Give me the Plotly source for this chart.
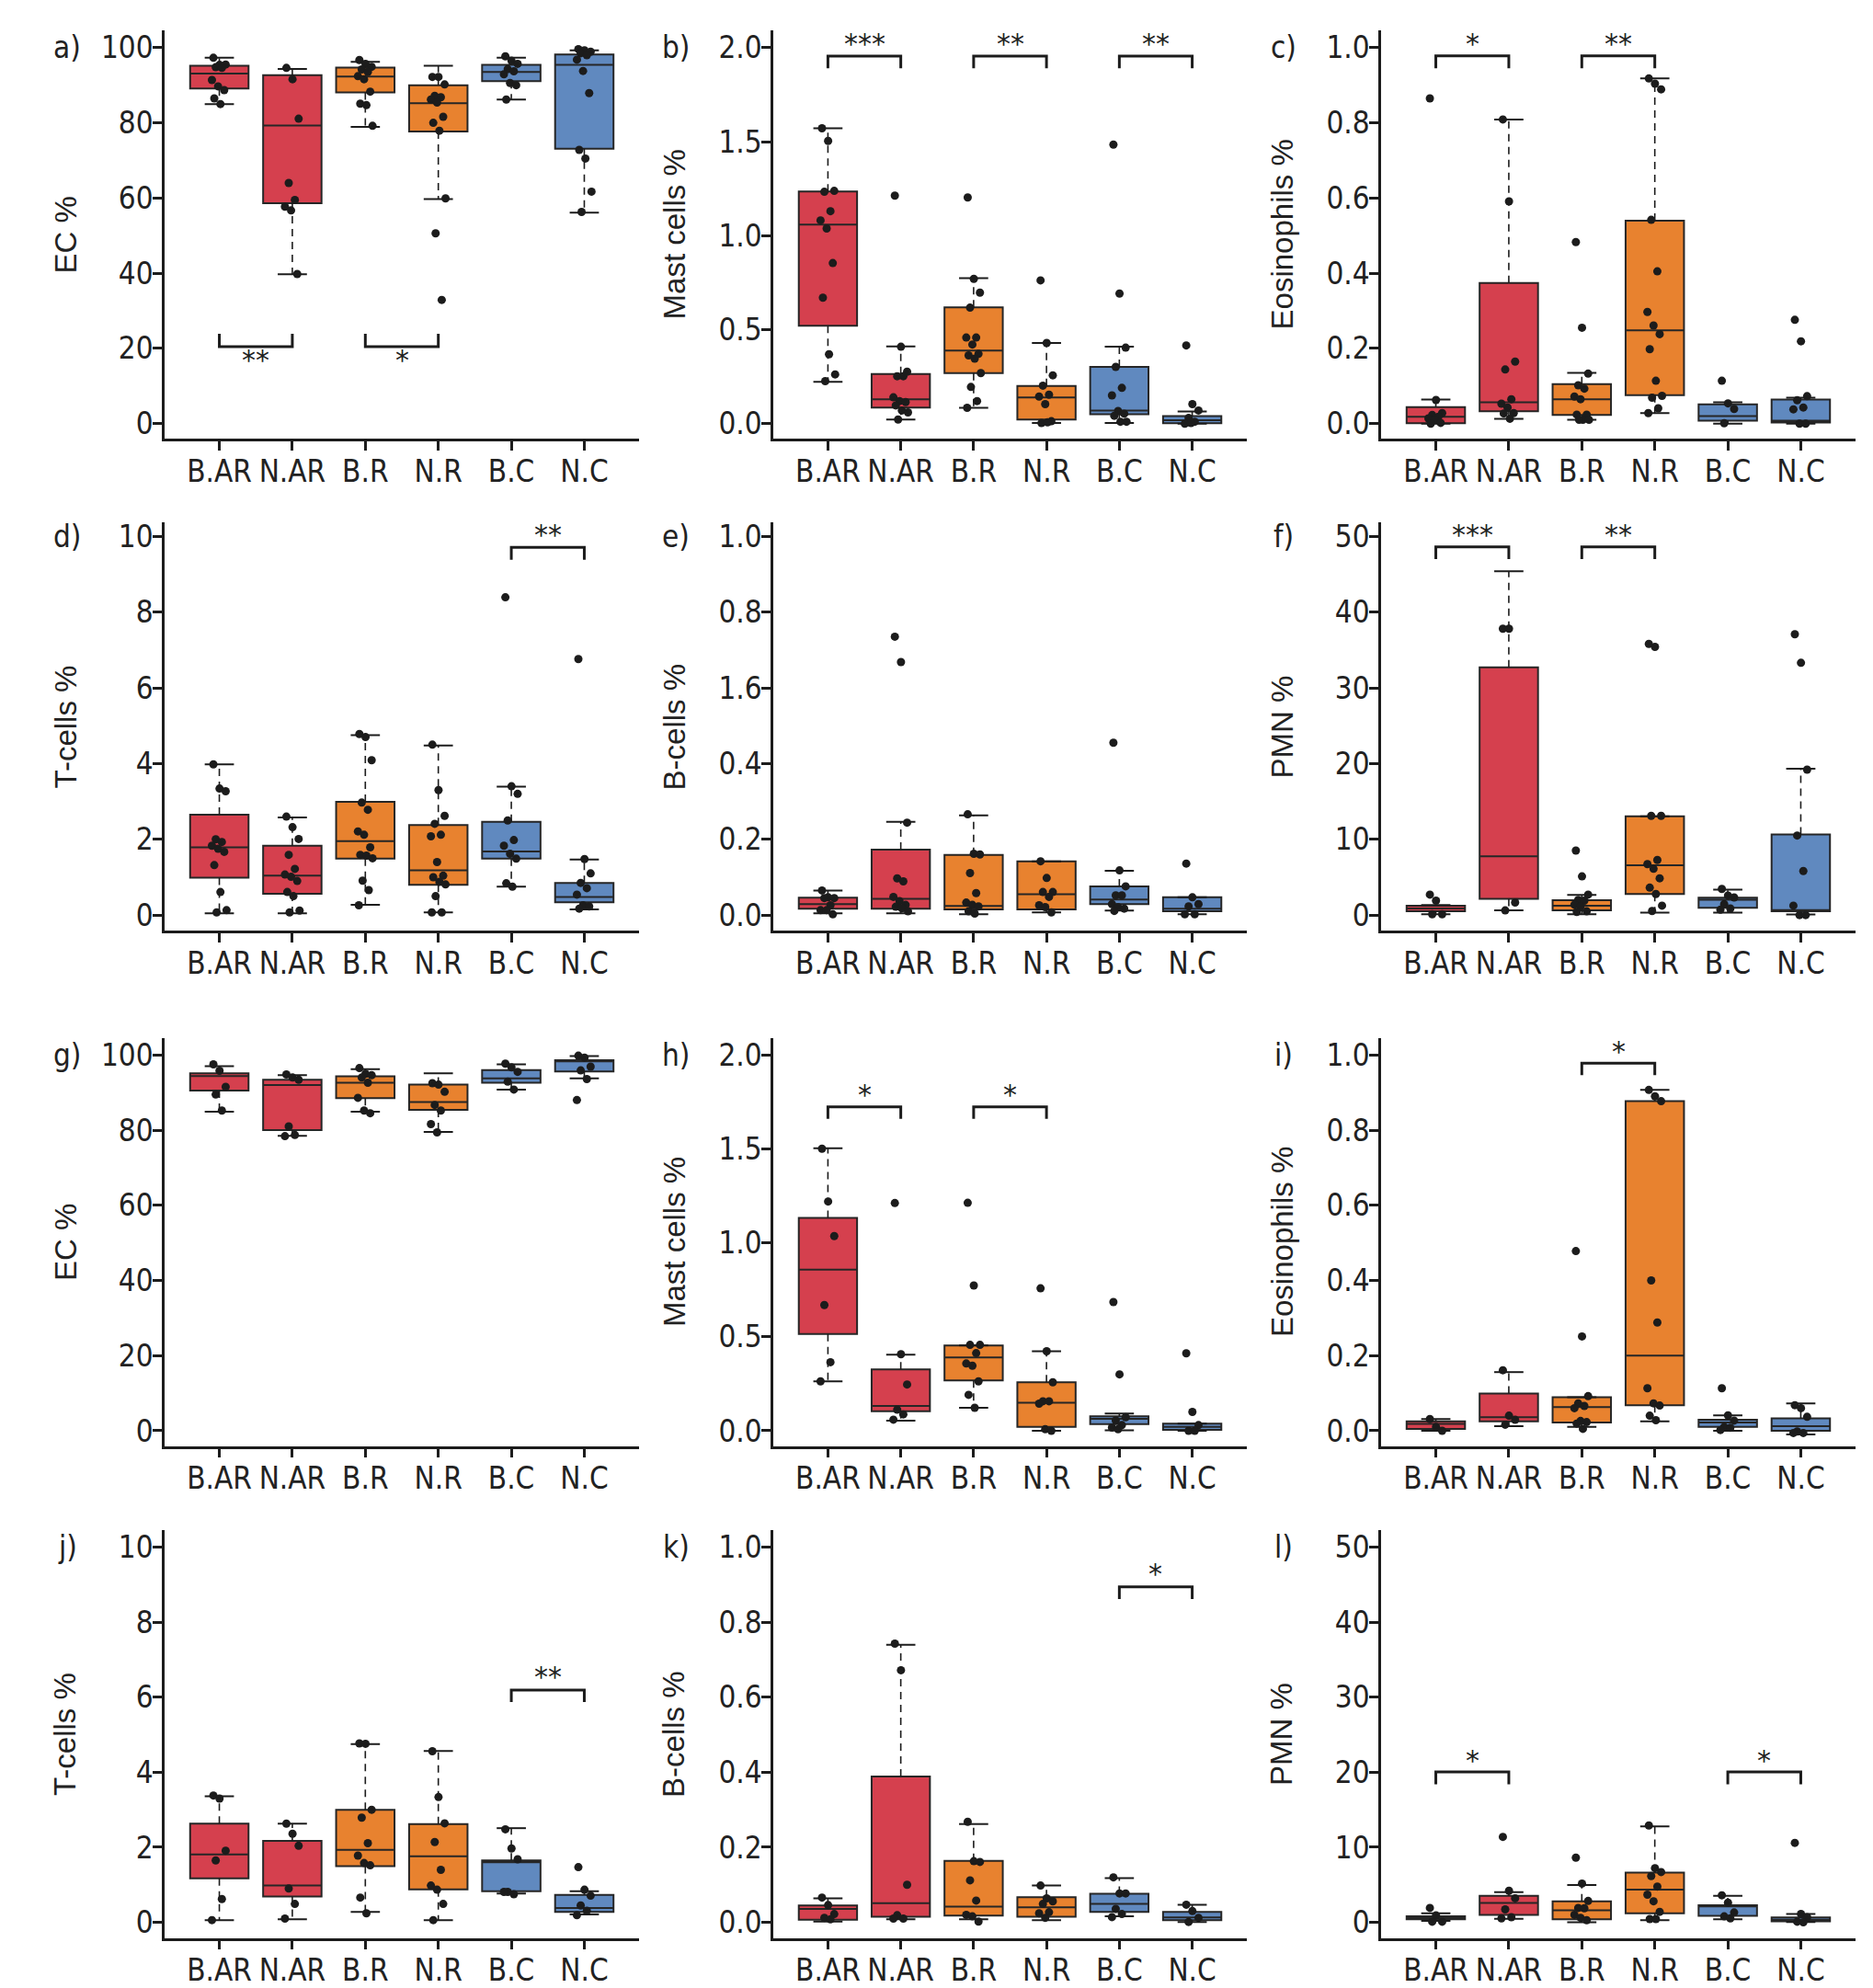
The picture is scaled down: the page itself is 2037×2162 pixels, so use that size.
import plotly.graph_objects as go

CATEGORIES = ["B.AR", "N.AR", "B.R", "N.R", "B.C", "N.C"]

# ---- data: per group [lower whisker, Q1, median, Q3, upper whisker] and raw points ----
A_STATS = [[85.0, 89.1, 93.1, 95.2, 97.3], [39.7, 58.6, 79.3, 92.7, 94.3], [78.9, 88.1, 92.3, 94.7, 96.2],
           [59.7, 77.7, 85.2, 90.0, 95.2], [86.2, 91.1, 93.5, 95.4, 97.3], [56.1, 73.1, 95.4, 98.2, 99.3]]
A_POINTS = [[97.3, 95.4, 95.5, 94.8, 94.6, 91.4, 89.7, 88.7, 86.5, 85.0],
            [94.6, 91.6, 81.1, 64.0, 59.5, 57.7, 56.7, 39.8],
            [96.7, 95.7, 94.9, 94.2, 93.5, 92.4, 91.6, 88.3, 85.1, 84.7, 79.2],
            [92.2, 92.2, 90.2, 87.2, 86.8, 86.2, 85.4, 81.6, 80.0, 77.9, 59.9, 50.6, 32.9],
            [97.7, 96.5, 95.7, 94.3, 93.7, 92.9, 90.6, 90.0, 86.2],
            [99.6, 99.3, 98.9, 98.5, 98.0, 96.8, 93.8, 87.9, 72.8, 70.5, 61.7, 56.3]]

B_STATS = [[0.222, 0.521, 1.059, 1.235, 1.571], [0.022, 0.085, 0.130, 0.264, 0.411], [0.084, 0.269, 0.389, 0.618, 0.774],
           [0.003, 0.022, 0.139, 0.200, 0.429], [0.003, 0.050, 0.070, 0.302, 0.409], [0.0, 0.002, 0.018, 0.040, 0.065]]
B_POINTS = [[1.571, 1.504, 1.238, 1.233, 1.13, 1.081, 1.038, 0.854, 0.67, 0.369, 0.262, 0.226],
            [1.213, 0.409, 0.276, 0.252, 0.252, 0.14, 0.12, 0.115, 0.097, 0.07, 0.06, 0.022],
            [1.203, 0.77, 0.697, 0.617, 0.458, 0.458, 0.421, 0.371, 0.363, 0.346, 0.269, 0.195, 0.12, 0.084],
            [0.762, 0.429, 0.257, 0.202, 0.154, 0.144, 0.104, 0.013, 0.003, 0.007],
            [1.484, 0.692, 0.404, 0.302, 0.19, 0.15, 0.067, 0.053, 0.042, 0.01, 0.01],
            [0.416, 0.104, 0.07, 0.03, 0.01, 0.0, 0.003]]

C_STATS = [[0.0, 0.001, 0.018, 0.044, 0.064], [0.013, 0.033, 0.057, 0.374, 0.809], [0.010, 0.023, 0.065, 0.105, 0.135],
           [0.028, 0.076, 0.248, 0.540, 0.918], [0.0, 0.008, 0.020, 0.051, 0.057], [0.0, 0.003, 0.008, 0.064, 0.069]]
C_POINTS = [[0.865, 0.063, 0.028, 0.023, 0.018, 0.014, 0.010, 0.002, 0.0],
            [0.809, 0.591, 0.165, 0.144, 0.065, 0.053, 0.043, 0.028, 0.027, 0.013],
            [0.483, 0.255, 0.133, 0.102, 0.093, 0.072, 0.065, 0.024, 0.024, 0.010, 0.010, 0.010],
            [0.918, 0.904, 0.889, 0.542, 0.405, 0.297, 0.261, 0.238, 0.198, 0.114, 0.074, 0.069, 0.041, 0.028],
            [0.114, 0.054, 0.039, 0.001],
            [0.276, 0.219, 0.073, 0.062, 0.043, 0.038, 0.0, 0.0]]

D_STATS = [[0.05, 0.99, 1.79, 2.65, 3.98], [0.05, 0.56, 1.04, 1.83, 2.58], [0.27, 1.49, 1.95, 2.99, 4.75],
           [0.07, 0.80, 1.18, 2.38, 4.48], [0.75, 1.49, 1.68, 2.46, 3.39], [0.15, 0.34, 0.48, 0.85, 1.47]]
D_POINTS = [[3.98, 3.34, 3.27, 2.0, 1.93, 1.83, 1.75, 1.67, 1.32, 0.61, 0.13, 0.07],
            [2.6, 2.32, 2.01, 1.59, 1.22, 1.07, 1.01, 0.9, 0.61, 0.5, 0.12, 0.07],
            [4.78, 4.7, 4.09, 2.97, 2.78, 2.21, 2.12, 1.79, 1.59, 1.57, 1.5, 0.91, 0.66, 0.26],
            [4.5, 3.3, 2.62, 2.41, 2.12, 2.08, 1.4, 1.04, 1.0, 0.88, 0.81, 0.5, 0.07, 0.07],
            [8.39, 3.4, 3.2, 2.5, 1.98, 1.83, 1.62, 1.49, 0.84, 0.75],
            [6.76, 1.48, 1.1, 0.85, 0.71, 0.54, 0.26, 0.23, 0.17]]

E_STATS = [[0.005, 0.017, 0.029, 0.046, 0.065], [0.005, 0.017, 0.043, 0.173, 0.246], [0.002, 0.015, 0.024, 0.159, 0.263],
           [0.007, 0.015, 0.055, 0.142, 0.142], [0.012, 0.029, 0.041, 0.076, 0.117], [0.002, 0.010, 0.017, 0.047, 0.047]]
E_POINTS = [[0.065, 0.047, 0.045, 0.045, 0.026, 0.013, 0.013, 0.002],
            [0.735, 0.668, 0.244, 0.097, 0.089, 0.048, 0.037, 0.027, 0.022, 0.018, 0.010],
            [0.266, 0.162, 0.160, 0.111, 0.058, 0.033, 0.027, 0.023, 0.010, 0.004],
            [0.142, 0.098, 0.061, 0.061, 0.048, 0.026, 0.021, 0.007],
            [0.455, 0.118, 0.076, 0.052, 0.052, 0.029, 0.021, 0.017, 0.011],
            [0.136, 0.047, 0.029, 0.023, 0.002, 0.002]]

F_STATS = [[0.12, 0.50, 0.87, 1.25, 1.33], [0.62, 2.16, 7.77, 32.7, 45.4], [0.12, 0.62, 1.25, 1.95, 2.66],
           [0.33, 2.78, 6.57, 13.05, 13.05], [0.33, 0.96, 2.04, 2.29, 3.37], [0.08, 0.50, 0.66, 10.64, 19.33]]
F_POINTS = [[2.7, 1.91, 0.12, 0.12],
            [37.8, 37.8, 1.66, 0.62],
            [8.52, 5.11, 2.7, 2.0, 1.9, 1.37, 1.16, 0.5, 0.42],
            [35.8, 35.4, 13.1, 13.1, 7.27, 6.73, 6.11, 4.86, 3.62, 2.78, 1.25, 0.54],
            [3.45, 2.58, 2.33, 1.45, 0.87, 0.71],
            [37.07, 33.3, 19.2, 10.5, 5.82, 1.25, 0.0, 0.0]]

G_STATS = [[84.9, 90.5, 94.4, 95.1, 97.0], [78.5, 80.0, 92.0, 93.4, 94.6], [84.9, 88.5, 92.6, 94.3, 96.2],
           [79.5, 85.4, 87.5, 92.1, 95.1], [90.8, 92.6, 93.8, 96.0, 97.5], [93.8, 95.6, 98.3, 98.6, 99.7]]
G_POINTS = [[97.5, 95.8, 91.5, 89.5, 85.2],
            [94.8, 94.0, 93.4, 81.0, 78.7, 78.4],
            [96.5, 95.0, 94.6, 94.0, 92.6, 88.6, 85.2, 84.5],
            [92.5, 92.1, 90.2, 86.7, 85.2, 81.6, 79.4],
            [97.7, 96.7, 95.5, 92.9, 90.8],
            [99.8, 99.3, 96.9, 95.9, 93.6, 88.0]]

H_STATS = [[0.263, 0.515, 0.857, 1.133, 1.503], [0.054, 0.104, 0.132, 0.326, 0.405], [0.122, 0.268, 0.390, 0.454, 0.454],
           [0.0, 0.020, 0.149, 0.258, 0.423], [0.002, 0.035, 0.064, 0.077, 0.092], [0.0, 0.005, 0.020, 0.038, 0.038]]
H_POINTS = [[1.501, 1.22, 1.036, 0.669, 0.365, 0.263],
            [1.212, 0.407, 0.246, 0.112, 0.087, 0.059],
            [1.213, 0.773, 0.457, 0.457, 0.413, 0.358, 0.346, 0.263, 0.191, 0.122],
            [0.758, 0.423, 0.258, 0.157, 0.157, 0.144, 0.008, 0.0],
            [0.685, 0.300, 0.072, 0.055, 0.030, 0.017, 0.008],
            [0.412, 0.100, 0.030, 0.0, 0.0]]

I_STATS = [[0.0, 0.005, 0.018, 0.025, 0.031], [0.012, 0.025, 0.036, 0.099, 0.156], [0.010, 0.022, 0.063, 0.089, 0.089],
           [0.025, 0.068, 0.200, 0.877, 0.907], [0.0, 0.010, 0.022, 0.029, 0.041], [-0.01, 0.0, 0.012, 0.033, 0.073]]
I_POINTS = [[0.031, 0.010, 0.0],
            [0.161, 0.040, 0.029, 0.016],
            [0.478, 0.251, 0.092, 0.073, 0.066, 0.060, 0.026, 0.023, 0.019, 0.005],
            [0.907, 0.890, 0.877, 0.400, 0.288, 0.113, 0.073, 0.067, 0.040, 0.028],
            [0.113, 0.041, 0.027, 0.010, 0.008, 0.002],
            [0.068, 0.060, 0.037, -0.002, -0.006, -0.006]]

J_STATS = [[0.06, 1.17, 1.81, 2.63, 3.36], [0.08, 0.69, 0.98, 2.17, 2.63], [0.28, 1.50, 1.93, 3.00, 4.75],
           [0.06, 0.88, 1.76, 2.62, 4.57], [0.77, 0.83, 1.60, 1.65, 2.51], [0.21, 0.28, 0.38, 0.73, 0.83]]
J_POINTS = [[3.38, 3.30, 1.91, 1.65, 0.62, 0.06],
            [2.63, 2.36, 2.04, 0.90, 0.49, 0.10],
            [4.77, 4.76, 3.00, 2.79, 2.11, 1.78, 1.58, 1.52, 0.66, 0.24],
            [4.56, 3.34, 2.64, 2.14, 1.40, 0.98, 0.87, 0.49, 0.06],
            [2.48, 1.97, 1.68, 0.81, 0.75, 0.81],
            [1.47, 0.87, 0.71, 0.45, 0.31, 0.19]]

K_STATS = [[0.002, 0.007, 0.036, 0.045, 0.064], [0.008, 0.015, 0.051, 0.389, 0.740], [0.008, 0.018, 0.042, 0.164, 0.262],
           [0.006, 0.015, 0.040, 0.067, 0.098], [0.016, 0.028, 0.049, 0.076, 0.118], [0.001, 0.006, 0.013, 0.028, 0.047]]
K_POINTS = [[0.066, 0.046, 0.022, 0.012, 0.008],
            [0.743, 0.672, 0.100, 0.019, 0.010, 0.010],
            [0.268, 0.163, 0.161, 0.112, 0.058, 0.020, 0.016, 0.002],
            [0.098, 0.064, 0.056, 0.049, 0.027, 0.024, 0.012],
            [0.120, 0.077, 0.077, 0.036, 0.022, 0.014],
            [0.047, 0.030, 0.012, 0.001]]

L_STATS = [[0.2, 0.4, 0.6, 0.8, 1.2], [0.48, 1.0, 2.57, 3.53, 4.01], [0.0, 0.4, 1.6, 2.81, 4.97],
           [0.28, 1.2, 4.37, 6.62, 12.79], [0.4, 0.88, 2.13, 2.29, 3.53], [0.04, 0.12, 0.36, 0.64, 1.12]]
L_POINTS = [[1.92, 0.92, 0.08, 0.08],
            [11.39, 4.21, 3.21, 1.72, 0.68, 0.52],
            [8.62, 5.17, 2.85, 1.92, 1.88, 1.0, 0.6, 0.28],
            [12.91, 7.22, 6.70, 6.17, 4.77, 3.69, 2.81, 1.40, 0.44, 0.44],
            [3.61, 2.61, 1.32, 0.80, 0.52],
            [10.59, 1.12, 0.68, 0.08, 0.0]]

# tick labels
TICKS_100 = [0, 20, 40, 60, 80, 100]
TICKS_2 = [0.0, 0.5, 1.0, 1.5, 2.0]
LABELS_2 = ["0.0", "0.5", "1.0", "1.5", "2.0"]
TICKS_1 = [0.0, 0.2, 0.4, 0.6, 0.8, 1.0]
LABELS_1 = ["0.0", "0.2", "0.4", "0.6", "0.8", "1.0"]
LABELS_E = ["0.0", "0.2", "0.4", "1.6", "0.8", "1.0"]
TICKS_10 = [0, 2, 4, 6, 8, 10]
TICKS_50 = [0, 10, 20, 30, 40, 50]

# significance brackets: (group i, group j, label, bar y, leg end y, label y)
SIG_A = [(0, 1, "**", 20.5, 23.9, 17.0), (2, 3, "*", 20.5, 23.9, 17.0)]
SIG_B = [(0, 1, "***", 1.955, 1.89, 2.02), (2, 3, "**", 1.955, 1.89, 2.02), (4, 5, "**", 1.955, 1.89, 2.02)]
SIG_C = [(0, 1, "*", 0.978, 0.945, 1.01), (2, 3, "**", 0.978, 0.945, 1.01)]
SIG_D = [(4, 5, "**", 9.71, 9.38, 10.03)]
SIG_F = [(0, 1, "***", 48.6, 47.0, 50.2), (2, 3, "**", 48.6, 47.0, 50.2)]
SIG_H = [(0, 1, "*", 1.724, 1.66, 1.79), (2, 3, "*", 1.724, 1.66, 1.79)]
SIG_I = [(2, 3, "*", 0.978, 0.946, 1.01)]
SIG_J = [(4, 5, "**", 6.19, 5.87, 6.54)]
SIG_K = [(4, 5, "*", 0.894, 0.862, 0.929)]
SIG_L = [(0, 1, "*", 20.05, 18.4, 21.6), (4, 5, "*", 20.05, 18.4, 21.6)]

PANELS = [
    ("a)", "EC %", A_STATS, A_POINTS, TICKS_100, [str(t) for t in TICKS_100], SIG_A),
    ("b)", "Mast cells %", B_STATS, B_POINTS, TICKS_2, LABELS_2, SIG_B),
    ("c)", "Eosinophils %", C_STATS, C_POINTS, TICKS_1, LABELS_1, SIG_C),
    ("d)", "T-cells %", D_STATS, D_POINTS, TICKS_10, [str(t) for t in TICKS_10], SIG_D),
    ("e)", "B-cells %", E_STATS, E_POINTS, TICKS_1, LABELS_E, []),
    ("f)", "PMN %", F_STATS, F_POINTS, TICKS_50, [str(t) for t in TICKS_50], SIG_F),
    ("g)", "EC %", G_STATS, G_POINTS, TICKS_100, [str(t) for t in TICKS_100], []),
    ("h)", "Mast cells %", H_STATS, H_POINTS, TICKS_2, LABELS_2, SIG_H),
    ("i)", "Eosinophils %", I_STATS, I_POINTS, TICKS_1, LABELS_1, SIG_I),
    ("j)", "T-cells %", J_STATS, J_POINTS, TICKS_10, [str(t) for t in TICKS_10], SIG_J),
    ("k)", "B-cells %", K_STATS, K_POINTS, TICKS_1, LABELS_1, SIG_K),
    ("l)", "PMN %", L_STATS, L_POINTS, TICKS_50, [str(t) for t in TICKS_50], SIG_L),
]

# ---- styling / layout ----
W, H = 2037, 2162
COLORS = ["#D5404E", "#D5404E", "#E8822F", "#E8822F", "#6089BF", "#6089BF"]
INK = "#1c1c1c"
OUTLINE = "#262626"
TICK_FONT = dict(family="DejaVu Sans Condensed, Liberation Sans Narrow, DejaVu Sans", size=33, color="#222222")
TITLE_FONT = dict(family="Liberation Sans, Arial, sans-serif", size=33, color="#222222")
STAR_FONT = dict(family="DejaVu Sans, Liberation Sans", size=30, color="#222222")
COL_X = [(179, 695), (841, 1356), (1502, 2018)]
ROW_Y = [(28.6, 476.0), (567.6, 1015.0), (1132.7, 1579.4), (1671.6, 2118.4)]
ROW_LO = [-0.041, -0.042, -0.041, -0.042]
ROW_HI = [1.045, 1.036, 1.044, 1.045]
CAP = 0.2
BOX_W = 0.8


def jit(i):
    return (((i * 0.381966) + 0.13) % 1.0 - 0.5) * 0.22


fig = go.Figure()
annotations = []
layout = {}

for k, (letter, title, stats, points, tvals, ttext, sigs) in enumerate(PANELS):
    r, c = divmod(k, 3)
    sfx = "" if k == 0 else str(k + 1)
    xr, yr = "x" + sfx, "y" + sfx
    M = tvals[-1]
    lo, hi = ROW_LO[r] * M, ROW_HI[r] * M
    x0, x1 = COL_X[c]
    y0, y1 = ROW_Y[r]

    for g in range(6):
        lf, q1, med, q3, uf = stats[g]
        fig.add_trace(go.Scatter(x=[g, g, None, g, g], y=[q3, uf, None, q1, lf], mode="lines",
                                 line=dict(color=INK, width=1.6, dash="8px,6px"),
                                 xaxis=xr, yaxis=yr, showlegend=False, hoverinfo="skip"))
        fig.add_trace(go.Scatter(x=[g - CAP, g + CAP, None, g - CAP, g + CAP], y=[uf, uf, None, lf, lf],
                                 mode="lines", line=dict(color=INK, width=2),
                                 xaxis=xr, yaxis=yr, showlegend=False, hoverinfo="skip"))
        fig.add_trace(go.Box(x=[g], q1=[q1], median=[med], q3=[q3], lowerfence=[q1], upperfence=[q3],
                             orientation="v", width=BOX_W, fillcolor=COLORS[g],
                             line=dict(color=OUTLINE, width=2), boxpoints=False,
                             xaxis=xr, yaxis=yr, showlegend=False, hoverinfo="skip"))
        pts = points[g]
        fig.add_trace(go.Scatter(x=[g + jit(i) for i in range(len(pts))], y=pts, mode="markers",
                                 marker=dict(color=INK, size=9),
                                 xaxis=xr, yaxis=yr, showlegend=False, hoverinfo="skip"))

    for (i, j, lab, ybar, yleg, ytxt) in sigs:
        fig.add_trace(go.Scatter(x=[i, i, j, j], y=[yleg, ybar, ybar, yleg], mode="lines",
                                 line=dict(color=INK, width=3),
                                 xaxis=xr, yaxis=yr, showlegend=False, hoverinfo="skip"))
        annotations.append(dict(x=(i + j) / 2, y=ytxt, xref=xr, yref=yr, text=lab, showarrow=False,
                                font=STAR_FONT, xanchor="center", yanchor="middle", yshift=0))

    xkey = "xaxis" + sfx
    ykey = "yaxis" + sfx
    layout[xkey] = dict(domain=[x0 / W, x1 / W], range=[-0.75, 5.75], anchor=yr,
                        tickmode="array", tickvals=list(range(6)), ticktext=CATEGORIES,
                        showline=True, linewidth=2.5, linecolor=INK, ticks="outside", ticklen=10,
                        tickwidth=2.5, tickcolor=INK, tickfont=TICK_FONT, showgrid=False, zeroline=False,
                        ticklabelstandoff=-6)
    layout[ykey] = dict(domain=[1 - y1 / H, 1 - y0 / H], range=[lo, hi], anchor=xr,
                        tickmode="array", tickvals=tvals, ticktext=ttext,
                        showline=True, linewidth=2.5, linecolor=INK, ticks="outside", ticklen=10,
                        tickwidth=2.5, tickcolor=INK, tickfont=TICK_FONT, showgrid=False, zeroline=False,
                        ticklabelstandoff=-7)

    top_px = y1 - (M - lo) / (hi - lo) * (y1 - y0)
    annotations.append(dict(x=(x0 - 106) / W, y=1 - top_px / H, xref="paper", yref="paper", text=letter,
                            showarrow=False, font=TICK_FONT, xanchor="center", yanchor="middle"))
    annotations.append(dict(x=(x0 - 108) / W, y=1 - ((y0 + y1) / 2) / H, xref="paper", yref="paper",
                            text=title, textangle=-90, showarrow=False, font=TITLE_FONT,
                            xanchor="center", yanchor="middle"))

fig.update_layout(width=W, height=H, margin=dict(l=0, r=0, t=0, b=0), paper_bgcolor="white",
                  plot_bgcolor="white", boxmode="overlay", showlegend=False, annotations=annotations,
                  **layout)

fig.write_html("out.html")
